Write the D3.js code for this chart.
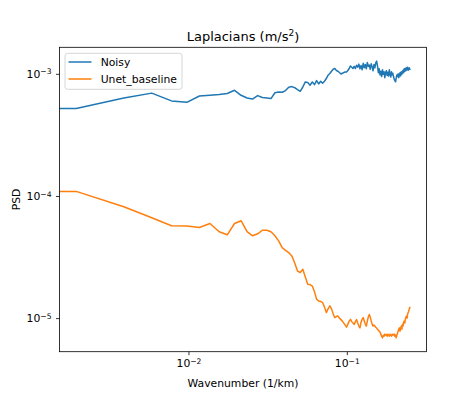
<!DOCTYPE html>
<html>
<head>
<meta charset="utf-8">
<script src="https://cdn.jsdelivr.net/npm/d3@7.9.0/dist/d3.min.js"></script>
<style>
  body { margin: 0; background: #fff; }
  svg { font-family: "DejaVu Sans", sans-serif; }
</style>
</head>
<body>
<div id="chart"></div>
<script>
// wavenumber grid: 129 evenly spaced bins, k = i / 512 (1/km), first bin is k = 0
const dk = 1 / 512;
const wavenumbers = d3.range(129).map(i => i * dk);

// PSD, one value per wavenumber bin
const noisy = [
  5.20e-4, 5.20e-4, 6.35e-4, 6.95e-4, 6.00e-4, 5.84e-4, 6.58e-4, 6.67e-4, 6.76e-4, 6.90e-4,
  7.33e-4, 6.67e-4, 6.34e-4, 6.22e-4, 6.63e-4, 6.40e-4, 6.34e-4, 6.27e-4, 7.00e-4, 7.10e-4,
  7.06e-4, 7.29e-4, 7.76e-4, 7.86e-4, 7.70e-4, 7.42e-4, 7.19e-4, 7.80e-4, 8.58e-4, 8.48e-4,
  8.06e-4, 8.58e-4, 8.16e-4, 8.80e-4, 8.26e-4, 8.69e-4, 8.37e-4, 8.69e-4, 9.15e-4, 9.74e-4,
  1.005e-3, 1.050e-3, 1.091e-3, 1.105e-3, 1.064e-3, 1.050e-3, 1.024e-3, 0.997e-3, 1.011e-3, 1.024e-3,
  1.035e-3, 1.035e-3, 1.064e-3, 1.105e-3, 1.160e-3, 1.133e-3, 1.105e-3, 1.150e-3, 1.105e-3, 1.177e-3,
  1.133e-3, 1.200e-3, 1.100e-3, 1.170e-3, 1.080e-3, 1.220e-3, 1.120e-3, 1.190e-3, 1.100e-3, 1.240e-3,
  1.150e-3, 1.180e-3, 1.090e-3, 1.210e-3, 1.140e-3, 1.060e-3, 1.190e-3, 1.120e-3, 1.230e-3, 1.270e-3,
  1.160e-3, 1.020e-3, 1.100e-3, 0.980e-3, 1.050e-3, 0.950e-3, 1.080e-3, 0.990e-3, 1.040e-3, 0.930e-3,
  1.020e-3, 1.060e-3, 0.970e-3, 1.030e-3, 0.960e-3, 1.080e-3, 0.990e-3, 0.940e-3, 1.040e-3, 0.980e-3,
  1.010e-3, 0.950e-3, 0.900e-3, 0.880e-3, 0.860e-3, 0.920e-3, 0.980e-3, 0.950e-3, 1.000e-3, 0.930e-3,
  0.970e-3, 1.020e-3, 0.960e-3, 1.040e-3, 0.990e-3, 1.030e-3, 1.070e-3, 1.020e-3, 1.100e-3, 1.050e-3,
  1.110e-3, 1.060e-3, 1.120e-3, 1.080e-3, 1.130e-3, 1.070e-3, 1.100e-3, 1.120e-3, 1.090e-3
];

const unetBaseline = [
  1.09e-4, 1.09e-4, 8.17e-5, 6.63e-5, 5.70e-5, 5.67e-5, 5.52e-5, 5.95e-5, 5.09e-5, 4.81e-5,
  5.95e-5, 6.27e-5, 5.10e-5, 4.72e-5, 4.90e-5, 5.24e-5, 5.24e-5, 5.09e-5, 4.72e-5, 4.29e-5,
  3.78e-5, 3.59e-5, 3.44e-5, 3.23e-5, 2.83e-5, 2.43e-5, 2.36e-5, 2.51e-5, 2.17e-5, 1.89e-5,
  1.88e-5, 1.83e-5, 1.64e-5, 1.43e-5, 1.38e-5, 1.37e-5, 1.34e-5, 1.23e-5, 1.11e-5, 1.19e-5,
  1.26e-5, 1.19e-5, 1.08e-5, 1.01e-5, 1.03e-5, 1.04e-5, 1.00e-5, 9.72e-6, 9.45e-6, 9.10e-6,
  8.76e-6, 8.43e-6, 8.93e-6, 9.45e-6, 9.76e-6, 9.36e-6, 9.10e-6, 8.88e-6, 9.36e-6, 9.72e-6,
  9.10e-6, 8.60e-6, 8.32e-6, 9.27e-6, 9.80e-6, 1.01e-5, 9.45e-6, 8.93e-6, 8.60e-6, 9.45e-6,
  1.02e-5, 1.07e-5, 1.02e-5, 9.45e-6, 8.93e-6, 8.60e-6, 8.76e-6, 8.60e-6, 8.43e-6, 8.28e-6,
  8.12e-6, 7.97e-6, 7.82e-6, 7.67e-6, 7.39e-6, 7.11e-6, 6.89e-6, 7.25e-6, 7.11e-6, 7.39e-6,
  7.25e-6, 7.35e-6, 7.11e-6, 7.39e-6, 7.25e-6, 7.11e-6, 7.39e-6, 7.25e-6, 7.11e-6, 7.39e-6,
  7.25e-6, 7.35e-6, 7.39e-6, 7.11e-6, 7.25e-6, 6.89e-6, 7.25e-6, 7.53e-6, 7.82e-6, 8.12e-6,
  8.32e-6, 7.82e-6, 8.28e-6, 8.60e-6, 8.12e-6, 8.88e-6, 8.60e-6, 9.27e-6, 9.45e-6, 9.10e-6,
  9.80e-6, 1.02e-5, 1.04e-5, 1.00e-5, 1.08e-5, 1.11e-5, 1.14e-5, 1.19e-5, 1.22e-5
];

const seriesNames = ["Noisy", "Unet_baseline"];
const seriesColors = ["#1f77b4", "#ff7f0e"];

// layout
const W = 474, H = 395;
const plot = { left: 59.5, right: 426.5, top: 47.3, bottom: 351.7 };

const svg = d3.select("#chart").append("svg")
  .attr("width", W)
  .attr("height", H);

// log domains padded by 5% like matplotlib autoscale (k = 0 is ignored)
function logPad(lo, hi) {
  const a = Math.log10(lo), b = Math.log10(hi), m = (b - a) * 0.05;
  return [Math.pow(10, a - m), Math.pow(10, b + m)];
}
const posK = wavenumbers.filter(k => k > 0);
const allV = noisy.concat(unetBaseline);

const x = d3.scaleLog()
  .domain(logPad(d3.min(posK), d3.max(posK)))
  .range([plot.left, plot.right]);
const y = d3.scaleLog()
  .domain(logPad(d3.min(allV), d3.max(allV)))
  .range([plot.bottom, plot.top]);

// clip so the k = 0 bin runs off the left edge, as in a clipped log plot
svg.append("clipPath").attr("id", "clip")
  .append("rect")
    .attr("x", plot.left).attr("y", plot.top)
    .attr("width", plot.right - plot.left)
    .attr("height", plot.bottom - plot.top);

const line = d3.line()
  .x(d => d.k > 0 ? x(d.k) : x(x.domain()[0] / 100))
  .y(d => y(d.v));

[noisy, unetBaseline].forEach((vals, s) => {
  svg.append("path")
    .datum(vals.map((v, i) => ({ k: wavenumbers[i], v })))
    .attr("clip-path", "url(#clip)")
    .attr("fill", "none")
    .attr("stroke", seriesColors[s])
    .attr("stroke-width", 1.5)
    .attr("stroke-linejoin", "round")
    .attr("stroke-linecap", "square")
    .attr("d", line);
});

// ticks: majors at powers of ten, minors at 2..9 multiples
function logTicks(scale) {
  const [lo, hi] = scale.domain();
  const major = [], minor = [];
  for (let e = Math.floor(Math.log10(lo)); e <= Math.ceil(Math.log10(hi)); e++) {
    for (let m = 1; m <= 9; m++) {
      const v = m * Math.pow(10, e);
      if (v < lo || v > hi) continue;
      (m === 1 ? major : minor).push(v);
    }
  }
  return { major, minor };
}

function sciLabel(text, v) {
  const e = Math.round(Math.log10(v));
  text.text(null);
  text.append("tspan").text("10");
  text.append("tspan")
    .attr("dy", "-0.45em")
    .attr("font-size", "7.6px")
    .text((e < 0 ? "\u2212" : "") + Math.abs(e));
}

const xt = logTicks(x), yt = logTicks(y);

const gx = svg.append("g").attr("transform", `translate(0,${plot.bottom})`);
gx.call(d3.axisBottom(x).tickValues(xt.minor).tickSize(2).tickFormat(""));
gx.call(d3.axisBottom(x).tickValues(xt.major).tickSize(3.5).tickPadding(4.5))
  .selectAll(".tick text").each(function (d) { sciLabel(d3.select(this), d); });

const gy = svg.append("g").attr("transform", `translate(${plot.left},0)`);
gy.call(d3.axisLeft(y).tickValues(yt.minor).tickSize(2).tickFormat(""));
gy.call(d3.axisLeft(y).tickValues(yt.major).tickSize(3.5).tickPadding(4.5))
  .selectAll(".tick text").each(function (d) { sciLabel(d3.select(this), d); });

svg.selectAll(".domain").remove();
svg.selectAll(".tick line").attr("stroke", "#000").attr("stroke-width", 0.8);
svg.selectAll(".tick text")
  .attr("fill", "#000")
  .style("font-family", "DejaVu Sans")
  .style("font-size", "10.8px");

// frame
svg.append("rect")
  .attr("x", plot.left).attr("y", plot.top)
  .attr("width", plot.right - plot.left)
  .attr("height", plot.bottom - plot.top)
  .attr("fill", "none")
  .attr("stroke", "#000")
  .attr("stroke-width", 0.8);

// title
const title = svg.append("text")
  .attr("x", (plot.left + plot.right) / 2)
  .attr("y", 40.5)
  .attr("text-anchor", "middle")
  .style("font-size", "13px");
title.append("tspan").text("Laplacians (m/s");
title.append("tspan").attr("dy", "-0.45em").style("font-size", "9px").text("2");
title.append("tspan").attr("dy", "0.45em").text(")");

// axis labels
svg.append("text")
  .attr("x", (plot.left + plot.right) / 2)
  .attr("y", 386.5)
  .attr("text-anchor", "middle")
  .style("font-size", "10.8px")
  .text("Wavenumber (1/km)");

svg.append("text")
  .attr("transform", `translate(20,${(plot.top + plot.bottom) / 2}) rotate(-90)`)
  .attr("text-anchor", "middle")
  .style("font-size", "10.8px")
  .text("PSD");

// legend
const legend = svg.append("g").attr("transform", "translate(65,53.3)");
legend.append("rect")
  .attr("width", 117).attr("height", 36)
  .attr("rx", 2.5)
  .attr("fill", "#fff").attr("fill-opacity", 0.8)
  .attr("stroke", "#ccc").attr("stroke-width", 0.8);

const items = legend.selectAll(".legend-item")
  .data(seriesNames)
  .join("g")
    .attr("class", "legend-item")
    .attr("transform", (_, i) => `translate(0,${8.7 + i * 17})`);

items.append("line")
  .attr("x1", 3.5).attr("x2", 26.5)
  .attr("stroke", (_, i) => seriesColors[i])
  .attr("stroke-width", 1.5);

items.append("text")
  .attr("x", 35.7)
  .attr("y", 3.8)
  .style("font-size", "10.8px")
  .text(d => d);
</script>
</body>
</html>
